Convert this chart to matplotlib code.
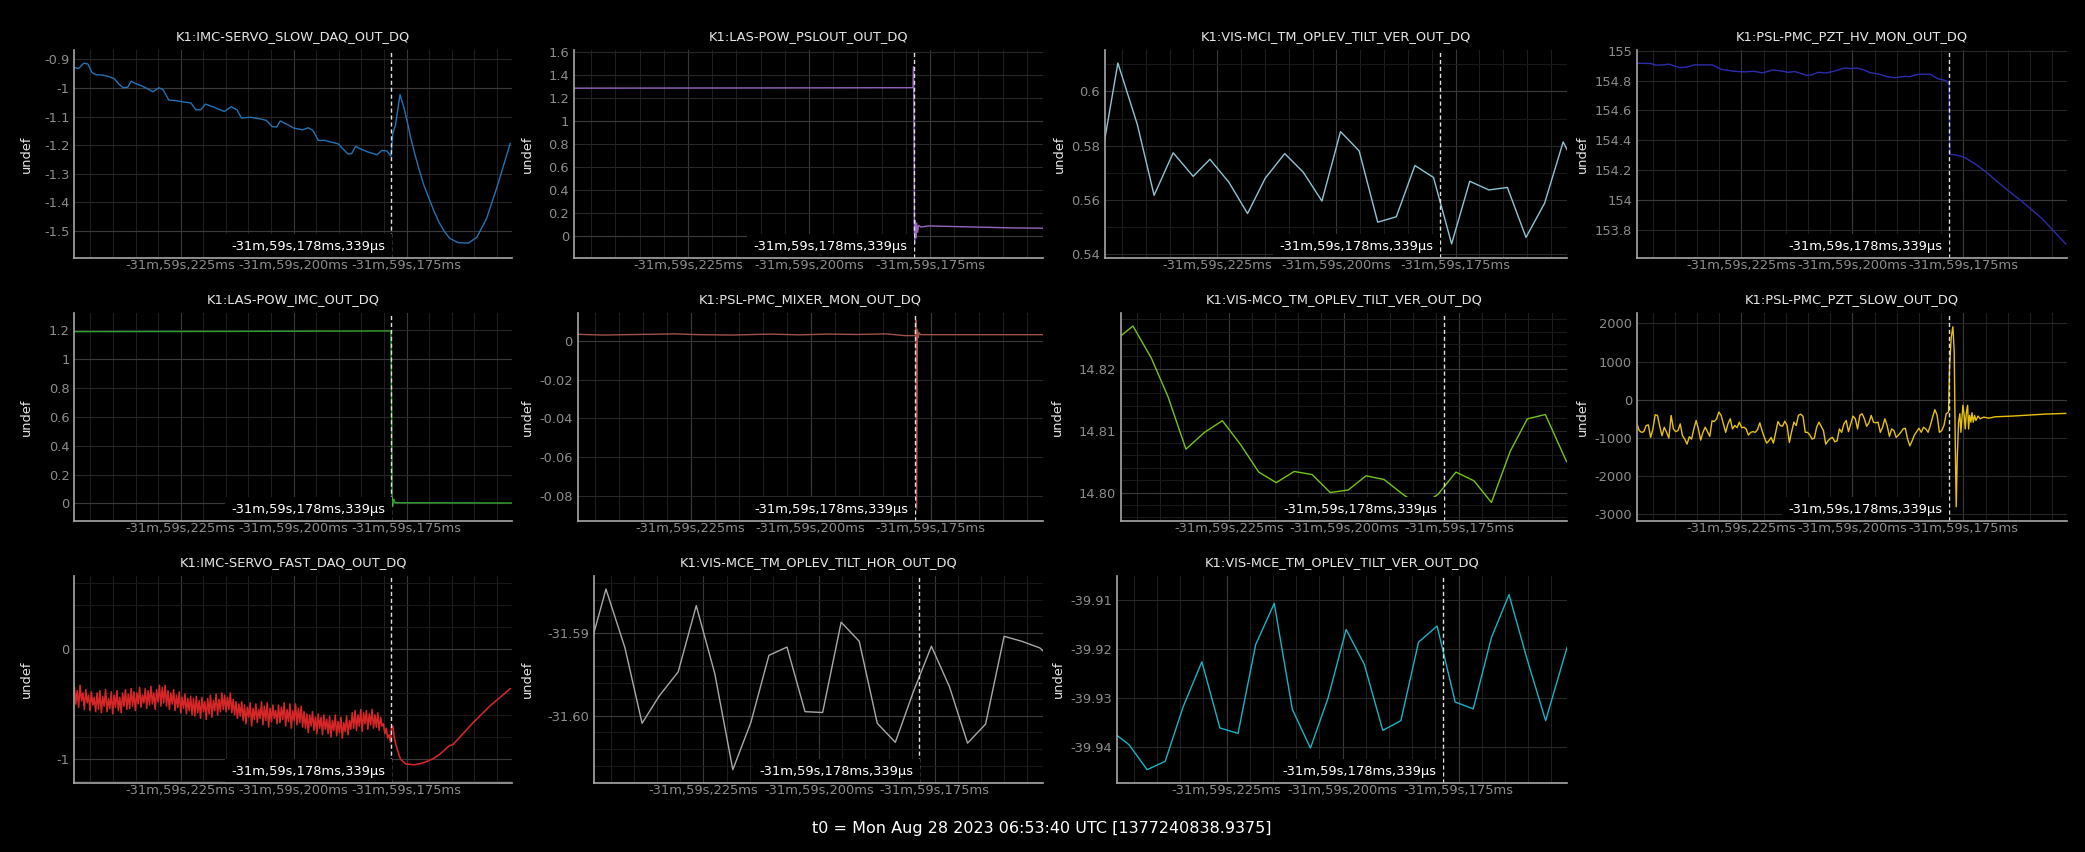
import numpy as np
import matplotlib
matplotlib.use('Agg')
import matplotlib.pyplot as plt

W, H, DPI = 2085, 852, 100

# ---------------- data ----------------
T0_CAPTION = 't0 = Mon Aug 28 2023 06:53:40 UTC [1377240838.9375]'
EVENT_T = -1919.178339            # seconds relative to t0
EVENT_LABEL = '-31m,59s,178ms,339µs'
XLIM_MS = (-70.2, 26.7)           # window relative to event, ms
XTICK_T = [-1919.225, -1919.200, -1919.175]
XTICK_LABELS = ['-31m,59s,225ms', '-31m,59s,200ms', '-31m,59s,175ms']
XMINOR_T = [-1919.245, -1919.240, -1919.235, -1919.230, -1919.220, -1919.215,
            -1919.210, -1919.205, -1919.195, -1919.190, -1919.185, -1919.180,
            -1919.170, -1919.165, -1919.160, -1919.155]

TITLES = ['K1:IMC-SERVO_SLOW_DAQ_OUT_DQ', 'K1:LAS-POW_PSLOUT_OUT_DQ',
          'K1:VIS-MCI_TM_OPLEV_TILT_VER_OUT_DQ', 'K1:PSL-PMC_PZT_HV_MON_OUT_DQ',
          'K1:LAS-POW_IMC_OUT_DQ', 'K1:PSL-PMC_MIXER_MON_OUT_DQ',
          'K1:VIS-MCO_TM_OPLEV_TILT_VER_OUT_DQ', 'K1:PSL-PMC_PZT_SLOW_OUT_DQ',
          'K1:IMC-SERVO_FAST_DAQ_OUT_DQ', 'K1:VIS-MCE_TM_OPLEV_TILT_HOR_OUT_DQ',
          'K1:VIS-MCE_TM_OPLEV_TILT_VER_OUT_DQ']
YLABEL = 'undef'

# times in ms relative to the event
P1_T = [-70.2,-69.3,-68.1,-67.2,-66.3,-65.3,-64.2,-62.7,-61.4,-60.3,-59.4,-58.4,-57.6,-56.7,-55.2,-53.7,-52.8,-51.5,-50.6,-49.3,
        -47.8,-45.9,-44.4,-43.3,-42.2,-41.2,-39.6,-37.0,-35.5,-34.2,-33.2,-31.3,-29.0,-27.7,-26.4,-25.4,-24.6,-23.1,-21.6,-19.7,
        -18.4,-17.4,-16.2,-14.8,-11.8,-9.6,-8.8,-7.9,-7.0,-5.1,-3.2,-2.1,-1.0,-0.1,
        0.3,0.9,1.9,2.8,3.6,4.3,5.2,6.1,7.2,8.4,9.5,10.6,11.8,12.9,14.7,17.0,18.9,21.1,23.4,26.3]
P1_Y = [-0.928,-0.932,-0.913,-0.916,-0.946,-0.954,-0.954,-0.959,-0.967,-0.987,-0.999,-0.997,-0.976,-0.984,-0.993,-1.005,-1.013,-0.999,-1.005,-1.042,
        -1.044,-1.049,-1.052,-1.076,-1.076,-1.056,-1.065,-1.082,-1.065,-1.076,-1.105,-1.102,-1.108,-1.113,-1.135,-1.136,-1.115,-1.127,-1.140,-1.146,
        -1.139,-1.148,-1.183,-1.183,-1.195,-1.231,-1.229,-1.203,-1.212,-1.224,-1.233,-1.218,-1.220,-1.238,
        -1.159,-1.129,-1.023,-1.070,-1.125,-1.176,-1.232,-1.283,-1.340,-1.389,-1.433,-1.471,-1.503,-1.525,-1.540,-1.542,-1.522,-1.455,-1.345,-1.194]

P2_T = [-70.5, -30.0, -0.15, -0.05, 0.05, 0.15, 0.3, 0.45, 0.6, 0.8, 1.0, 1.5, 3.0, 10.0, 20.0, 26.8]
P2_Y = [1.283, 1.285, 1.287, 1.47, 0.9, -0.07, 0.13, -0.02, 0.11, 0.03, 0.09, 0.075, 0.085, 0.078, 0.068, 0.065]

P3_T = [-70.4,-67.5,-63.4,-59.9,-55.9,-51.7,-48.2,-44.2,-40.3,-36.6,-32.5,-28.6,-24.7,-20.8,-16.9,-13.0,-9.1,-5.2,-1.3,
        2.5,6.3,10.3,14.2,18.1,22.0,25.9,27.3]
P3_Y = [0.5808,0.6105,0.5877,0.5617,0.5774,0.5687,0.5750,0.5665,0.5550,0.5680,0.5771,0.5702,0.5596,0.5852,0.5781,0.5518,
        0.5538,0.5727,0.5683,0.5438,0.5669,0.5637,0.5646,0.5462,0.5588,0.5814,0.5765]

P4_T = [-70.2,-67.1,-66.0,-64.1,-63.0,-60.7,-58.8,-57.3,-54.3,-53.2,-51.3,-48.3,-46.0,-43.8,-41.9,-39.6,-37.7,-36.2,-34.7,-33.6,
        -32.1,-30.9,-29.4,-27.5,-25.6,-23.4,-21.9,-20.7,-19.2,-17.7,-15.8,-13.9,-12.1,-9.8,-8.7,-6.8,-4.1,-2.6,-0.4,0.15,
        0.3,1.5,3.4,6.0,8.3,12.1,16.6,21.1,26.4]
P4_Y = [154.916,154.914,154.903,154.905,154.910,154.887,154.891,154.905,154.905,154.905,
        154.875,154.862,154.858,154.862,154.851,154.871,154.864,154.855,154.860,154.851,
        154.835,154.837,154.855,154.851,154.864,154.884,154.880,154.884,154.873,154.853,
        154.844,154.826,154.819,154.828,154.826,154.842,154.842,154.815,154.797,154.774,
        154.305,154.303,154.288,154.242,154.192,154.095,153.989,153.876,153.706]

P5_T = [-70.2, -35.0, -0.1, 0.05, 0.15, 0.3, 0.5, 0.8, 26.7]
P5_Y = [1.190, 1.192, 1.195, 0.60, 0.05, -0.02, 0.03, 0.005, 0.003]

P6_T = [-70.5,-65,-60,-55,-50,-45,-38,-30,-24,-18,-12,-6,-2,-0.1,0.1,0.25,0.4,0.55,0.75,0.9,1.2,26.8]
P6_Y = [0.0037,0.0033,0.0035,0.0037,0.0039,0.0035,0.0033,0.0038,0.0034,0.0038,0.0036,0.0039,0.0030,0.0030,
        0.0030,0.0110,-0.0870,0.0060,0.0020,0.0045,0.0035,0.0035]

P7_T = [-70.3,-67.5,-63.5,-59.9,-56.0,-52.0,-48.1,-44.1,-40.2,-36.4,-32.5,-28.6,-24.7,-20.8,-16.9,-13.0,-8.9,-5.1,-1.3,
        2.6,6.5,10.3,14.4,18.1,22.0,26.6]
P7_Y = [14.8252,14.8269,14.8217,14.8155,14.8070,14.8097,14.8116,14.8077,14.8033,14.8016,14.8034,14.8029,14.8000,
        14.8004,14.8027,14.8021,14.7997,14.7978,14.7997,14.8033,14.8019,14.7984,14.8067,14.8119,14.8126,14.8050]

# PZT slow: evenly sampled stretch before the event, then the ring-down
P8_PRE_SPAN = (-70.2, 0.0)
P8_PRE = [-641,-819,-863,-846,-685,-668,-997,-774,-401,-418,-703,-952,-730,-863,-1015,-418,-774,-846,-819,-641,
          -952,-1041,-1175,-979,-1041,-774,-552,-774,-1068,-863,-730,-846,-970,-561,-579,-507,-329,-418,-641,-863,
          -641,-507,-774,-685,-739,-596,-739,-730,-774,-935,-863,-846,-863,-792,-614,-819,-997,-1148,-1086,-997,
          -1148,-863,-579,-685,-703,-570,-685,-1130,-846,-596,-685,-418,-383,-445,-863,-863,-935,-1041,-1015,-730,
          -596,-703,-819,-1175,-1086,-1024,-997,-1113,-1086,-774,-863,-641,-552,-846,-641,-436,-507,-774,-418,-374,
          -507,-703,-614,-418,-596,-614,-596,-863,-730,-507,-685,-970,-774,-819,-997,-935,-863,-774,-757,-1041,
          -1219,-1086,-935,-846,-757,-863,-730,-774,-863,-685,-463,-267,-418,-863,-819,-685,-374,-329]
P8_POST_T = [0.23,0.60,0.98,1.28,1.51,1.73,1.96,2.26,2.56,2.79,3.02,3.24,3.54,3.77,4.00,4.30,4.52,4.75,5.05,5.28,
             5.58,5.88,6.18,6.64,7.16,7.92,9.05,10.56,14.33,18.10,21.87,26.4]
P8_POST_Y = [828,1629,1914,1273,-1041,-2821,-1575,-596,-374,-863,-507,-151,-418,-774,-374,-151,-774,-418,-596,-347,
             -596,-418,-552,-436,-507,-463,-490,-454,-436,-409,-383,-365]

# IMC fast: evenly sampled noisy stretch before the event, then the slow recovery
P9_PRE_SPAN = (-70.2, -0.2)
P9_PRE = [-0.35,-0.50,-0.38,-0.53,-0.33,-0.47,-0.40,-0.55,-0.37,-0.49,-0.42,-0.56,-0.39,-0.51,-0.44,-0.57,
          -0.40,-0.55,-0.38,-0.58,-0.43,-0.52,-0.37,-0.57,-0.45,-0.54,-0.39,-0.59,-0.42,-0.53,-0.38,-0.56,-0.44,-0.58,
          -0.40,-0.52,-0.37,-0.55,
          -0.41,-0.54,-0.36,-0.52,-0.39,-0.56,-0.40,-0.50,-0.35,-0.53,-0.42,-0.49,-0.36,-0.54,-0.38,-0.51,-0.34,-0.50,
          -0.40,-0.55,-0.37,-0.48,-0.33,-0.52,
          -0.35,-0.49,-0.33,-0.52,-0.38,-0.55,-0.40,-0.50,-0.37,-0.56,-0.42,-0.53,-0.39,-0.58,-0.44,-0.54,-0.41,-0.59,
          -0.45,-0.56,-0.43,-0.60,
          -0.45,-0.61,-0.43,-0.58,-0.47,-0.63,-0.44,-0.57,-0.48,-0.64,-0.45,-0.59,-0.42,-0.62,-0.47,-0.56,-0.41,-0.60,
          -0.46,-0.57,-0.40,-0.55,
          -0.42,-0.57,-0.44,-0.55,-0.40,-0.58,-0.46,-0.60,-0.48,-0.63,-0.50,-0.61,
          -0.48,-0.65,-0.51,-0.68,-0.53,-0.62,-0.49,-0.70,-0.54,-0.64,-0.50,-0.67,-0.55,-0.63,-0.48,-0.69,-0.52,-0.65,
          -0.49,-0.71,-0.54,-0.66,-0.51,-0.63,-0.56,-0.68,
          -0.51,-0.67,-0.53,-0.64,-0.49,-0.70,-0.55,-0.66,-0.50,-0.72,-0.56,-0.65,-0.50,-0.69,-0.54,-0.67,-0.52,-0.71,
          -0.57,-0.72,-0.59,-0.76,-0.60,-0.70,-0.57,-0.74,-0.62,-0.77,-0.59,-0.72,-0.62,-0.78,-0.60,-0.73,
          -0.64,-0.77,-0.61,-0.80,-0.65,-0.74,-0.60,-0.79,-0.66,-0.76,-0.62,-0.81,-0.67,-0.75,-0.61,-0.78,-0.65,-0.73,
          -0.58,-0.72,-0.56,-0.74,-0.60,-0.70,-0.55,-0.75,-0.58,-0.68,-0.56,-0.73,-0.59,-0.69,-0.55,-0.72,-0.60,-0.71,
          -0.58,-0.74,-0.62,-0.70,
          -0.68,-0.77,-0.72,-0.81,-0.78,-0.85]
P9_POST_T = [0.0, 0.3, 0.7, 1.3, 2.0, 3.1, 5.0, 6.9, 9.1, 10.6, 12.9, 13.6, 18.1, 21.9, 26.3]
P9_POST_Y = [-0.715, -0.70, -0.82, -0.914, -1.0, -1.043, -1.052, -1.037, -1.0, -0.96, -0.877, -0.87, -0.669, -0.515, -0.362]

P10_T = [-70.5,-67.7,-63.6,-59.9,-56.2,-52.1,-48.2,-44.2,-40.3,-36.4,-32.5,-28.6,-24.7,-20.9,-16.9,-13.0,-9.1,-5.2,-1.3,
         2.6,6.5,10.4,14.3,18.3,22.1,26.0,26.8]
P10_Y = [-31.5904,-31.5847,-31.5918,-31.6009,-31.5976,-31.5947,-31.5867,-31.5949,-31.6065,-31.6008,-31.5927,-31.5917,
         -31.5995,-31.5996,-31.5887,-31.5910,-31.6009,-31.6032,-31.5971,-31.5916,-31.5965,-31.6033,-31.6010,-31.5904,
         -31.5910,-31.5918,-31.5922]

P11_T = [-70.3,-67.7,-63.8,-59.9,-56.0,-52.0,-48.1,-44.2,-40.4,-36.4,-32.5,-28.6,-24.8,-20.9,-17.0,-13.0,-9.1,-5.3,-1.3,
         2.6,6.5,10.4,14.2,18.2,22.1,26.7]
P11_Y = [-39.9376,-39.9395,-39.9446,-39.9429,-39.9317,-39.9226,-39.9361,-39.9372,-39.9191,-39.9107,-39.9323,-39.9402,
         -39.9300,-39.9160,-39.9231,-39.9366,-39.9346,-39.9186,-39.9153,-39.9308,-39.9322,-39.9177,-39.9089,-39.9224,
         -39.9346,-39.9197]

# y axis ticks per panel
Y1_TICKS = [-0.9, -1.0, -1.1, -1.2, -1.3, -1.4, -1.5]
Y1_LABELS = ['-0.9', '-1', '-1.1', '-1.2', '-1.3', '-1.4', '-1.5']
Y2_TICKS = [0, 0.2, 0.4, 0.6, 0.8, 1.0, 1.2, 1.4, 1.6]
Y2_LABELS = ['0', '0.2', '0.4', '0.6', '0.8', '1', '1.2', '1.4', '1.6']
Y3_TICKS = [0.54, 0.56, 0.58, 0.60]
Y3_LABELS = ['0.54', '0.56', '0.58', '0.6']
Y3_MINOR = [0.55, 0.57, 0.59, 0.61]
Y4_TICKS = [153.8, 154.0, 154.2, 154.4, 154.6, 154.8, 155.0]
Y4_LABELS = ['153.8', '154', '154.2', '154.4', '154.6', '154.8', '155']
Y5_TICKS = [0, 0.2, 0.4, 0.6, 0.8, 1.0, 1.2]
Y5_LABELS = ['0', '0.2', '0.4', '0.6', '0.8', '1', '1.2']
Y6_TICKS = [0, -0.02, -0.04, -0.06, -0.08]
Y6_LABELS = ['0', '-0.02', '-0.04', '-0.06', '-0.08']
Y7_TICKS = [14.80, 14.81, 14.82]
Y7_LABELS = ['14.80', '14.81', '14.82']
Y7_MINOR = [14.796, 14.798, 14.802, 14.804, 14.806, 14.808, 14.812, 14.814, 14.816, 14.818, 14.822, 14.824, 14.826, 14.828]
Y8_TICKS = [2000, 1000, 0, -1000, -2000, -3000]
Y8_LABELS = ['2000', '1000', '0', '-1000', '-2000', '-3000']
Y9_TICKS = [0, -1]
Y9_LABELS = ['0', '-1']
Y9_MINOR = [0.6, 0.4, 0.2, -0.2, -0.4, -0.6, -0.8, -1.2]
Y10_TICKS = [-31.59, -31.60]
Y10_LABELS = ['-31.59', '-31.60']
Y10_MINOR = [-31.584, -31.586, -31.588, -31.592, -31.594, -31.596, -31.598, -31.602, -31.604, -31.606, -31.608]
Y11_TICKS = [-39.91, -39.92, -39.93, -39.94]
Y11_LABELS = ['-39.91', '-39.92', '-39.93', '-39.94']

# ---------------- layout / style ----------------
ROW_Y = [(50, 258), (313, 521), (575.5, 783.4)]
PANELS = [
    dict(t=P1_T, y=P1_Y, c='#2372b3', x=(74.4, 512), r=0, lx=26.4, ylim=(-1.594, -0.867),
         yt=Y1_TICKS, yl=Y1_LABELS, ym=[], yb=[-1.0, -1.5]),
    dict(t=P2_T, y=P2_Y, c='#9467bd', x=(574, 1043), r=0, lx=527.4, ylim=(-0.194, 1.615),
         yt=Y2_TICKS, yl=Y2_LABELS, ym=[], yb=[0, 1.0]),
    dict(t=P3_T, y=P3_Y, c='#8ec3d3', x=(1105, 1567), r=0, lx=1059.3, ylim=(0.5386, 0.6153),
         yt=Y3_TICKS, yl=Y3_LABELS, ym=Y3_MINOR, yb=[0.60]),
    dict(t=P4_T, y=P4_Y, c='#2c2cac', x=(1637, 2067), r=0, lx=1582.8, ylim=(153.612, 155.0045),
         yt=Y4_TICKS, yl=Y4_LABELS, ym=[], yb=[154.0]),
    dict(t=P5_T, y=P5_Y, c='#2ca02c', x=(74.4, 512), r=1, lx=26.4, ylim=(-0.122, 1.3196),
         yt=Y5_TICKS, yl=Y5_LABELS, ym=[], yb=[0, 1.0]),
    dict(t=P6_T, y=P6_Y, c='#a0524a', x=(577.5, 1043), r=1, lx=527.4, ylim=(-0.0932, 0.01474),
         yt=Y6_TICKS, yl=Y6_LABELS, ym=[], yb=[0]),
    dict(t=P7_T, y=P7_Y, c='#74c417', x=(1120.5, 1567), r=1, lx=1057.6, ylim=(14.7954, 14.8290),
         yt=Y7_TICKS, yl=Y7_LABELS, ym=Y7_MINOR, yb=[14.80, 14.82]),
    dict(t=None, y=None, c='#e8c20a', x=(1637, 2067), r=1, lx=1582.8, ylim=(-3196, 2276),
         yt=Y8_TICKS, yl=Y8_LABELS, ym=[], yb=[0]),
    dict(t=None, y=None, c='#d62728', x=(74.4, 512), r=2, lx=26.4, ylim=(-1.221, 0.666),
         yt=Y9_TICKS, yl=Y9_LABELS, ym=Y9_MINOR, yb=[0, -1]),
    dict(t=P10_T, y=P10_Y, c='#a8a8a8', x=(594.4, 1043), r=2, lx=527.4, ylim=(-31.60816, -31.58306),
         yt=Y10_TICKS, yl=Y10_LABELS, ym=Y10_MINOR, yb=[-31.59, -31.60]),
    dict(t=P11_T, y=P11_Y, c='#17b3c7', x=(1117.4, 1567), r=2, lx=1058.6, ylim=(-39.9474, -39.905),
         yt=Y11_TICKS, yl=Y11_LABELS, ym=[], yb=[]),
]

FS = 9.36
TICK_C = '#8c8c8c'
TEXT_C = '#e6e6e6'

fig = plt.figure(figsize=(W / DPI, H / DPI), dpi=DPI, facecolor='black')

for i, p in enumerate(PANELS):
    l, rgt = p['x']
    top, bot = ROW_Y[p['r']]
    ax = fig.add_axes([l / W, 1 - bot / H, (rgt - l) / W, (bot - top) / H])
    ax.set_facecolor('black')

    lw = 1.0
    if i == 7:
        t_pre = np.linspace(P8_PRE_SPAN[0], P8_PRE_SPAN[1], len(P8_PRE))
        t_ms = np.concatenate([t_pre, P8_POST_T])
        yv = np.concatenate([P8_PRE, P8_POST_Y])
    elif i == 8:
        t_pre = np.linspace(P9_PRE_SPAN[0], P9_PRE_SPAN[1], len(P9_PRE))
        t_ms = np.concatenate([t_pre, P9_POST_T])
        yv = np.concatenate([P9_PRE, P9_POST_Y])
        lw = 1.15
    else:
        t_ms = np.asarray(p['t'], dtype=float)
        yv = np.asarray(p['y'], dtype=float)
    xs = EVENT_T + t_ms / 1000.0
    ax.plot(xs, yv, color=p['c'], lw=lw, zorder=3)

    ax.set_xlim(EVENT_T + XLIM_MS[0] / 1000.0, EVENT_T + XLIM_MS[1] / 1000.0)
    ax.set_ylim(*p['ylim'])

    ax.set_xticks(XTICK_T, XTICK_LABELS)
    ax.set_xticks(XMINOR_T, minor=True)
    ax.set_yticks(p['yt'], p['yl'])
    ax.set_yticks(p['ym'], minor=True)

    ax.tick_params(which='both', length=0, labelsize=FS, labelcolor=TICK_C)
    ax.tick_params(axis='x', pad=0.5)
    ax.tick_params(axis='y', pad=3.5)

    ax.set_axisbelow(True)
    ax.xaxis.grid(True, which='major', color='#383838', lw=0.8)
    ax.xaxis.grid(True, which='minor', color='#1e1e1e', lw=0.8)
    ax.yaxis.grid(True, which='major', color='#272727', lw=0.8)
    ax.yaxis.grid(True, which='minor', color='#181818', lw=0.8)
    for v in p['yb']:
        ax.axhline(v, color='#3a3a3a', lw=0.8, zorder=0.6)

    for s in ('top', 'right'):
        ax.spines[s].set_visible(False)
    for s in ('left', 'bottom'):
        ax.spines[s].set_color('#a6a6a6')
        ax.spines[s].set_linewidth(1.2)
        ax.spines[s].set_zorder(6)

    ax.axvline(EVENT_T, color='#e0e0e0', lw=1.0, ls=(0, (3, 2)), zorder=4)
    ax.annotate(EVENT_LABEL, xy=(EVENT_T, 0), xycoords=('data', 'axes fraction'),
                xytext=(-4.5, 3.6), textcoords='offset points', ha='right', va='bottom',
                color='white', fontsize=FS,
                bbox=dict(boxstyle='square,pad=0.5', fc='black', ec='none'), zorder=5)

    ax.set_title(TITLES[i], color=TEXT_C, fontsize=FS, pad=7)
    ax.set_ylabel(YLABEL, color=TEXT_C, fontsize=FS, ha='center', va='center')
    ax.yaxis.set_label_coords((p['lx'] - l) / (rgt - l), 0.5)

fig.text(1042 / W, 1 - 829 / H, T0_CAPTION, ha='center', va='center', color='white', fontsize=11.5)

fig.savefig('out.png', dpi=DPI, facecolor='black')
